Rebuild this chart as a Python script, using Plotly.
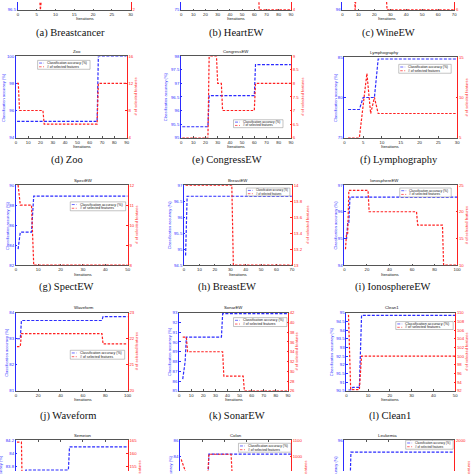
import plotly.graph_objects as go

W, H = 474, 474
BLUE = "#2b2bff"
RED = "#ff2020"
AX = "#555555"

# ---------------- data ----------------
# (a) Breastcancer
bc_acc_it = [1, 30]
bc_acc = [97.3, 97.3]
bc_feat_it = [1, 5, 6, 7, 30]
bc_feat = [5, 5, 2, 4, 4]
# (b) HeartEW
he_acc_it = [1, 90]
he_acc = [85.0, 85.0]
he_feat_it = [1, 63, 64, 90]
he_feat = [7, 7, 4, 4]
# (c) WineEW
wi_acc_it = [1, 70]
wi_acc = [99.0, 99.0]
wi_feat_it = [1, 7, 8, 9, 27, 28, 70]
wi_feat = [9, 9, 6, 8, 8, 6, 6]
# (d) Zoo
zo_acc_it = [1, 66, 67, 90]
zo_acc = [95.2, 95.2, 100, 100]
zo_feat_it = [1, 2, 3, 22, 23, 66, 67, 90]
zo_feat = [12, 12, 8, 8, 6, 6, 12, 12]
# (e) CongressEW
cg_acc_it = [1, 22, 23, 60, 61, 90]
cg_acc = [95.4, 95.4, 96.55, 96.55, 97.7, 97.7]
cg_feat_it = [1, 22, 23, 29, 30, 33, 34, 60, 61, 90]
cg_feat = [6, 6, 9, 9, 8, 8, 7, 7, 8, 8]
# (f) Lymphography
ly_acc_it = [1, 4, 5, 8, 9, 30]
ly_acc = [78.5, 78.5, 80, 80, 84.8, 84.8]
ly_feat_it = [1, 4, 6, 7, 8, 9, 30]
ly_feat = [5, 5, 13, 8, 10, 8, 8]
# (g) SpectEW
sp_acc_it = [1, 2, 7, 8, 50]
sp_acc = [83.6, 85.3, 85.3, 88.9, 88.9]
sp_feat_it = [1, 2, 7, 8, 50]
sp_feat = [12, 11, 11, 8, 8]
# (h) BreastEW
be_acc_it = [1, 2, 70]
be_acc = [94.8, 96.65, 96.65]
be_feat_it = [1, 31, 32, 70]
be_feat = [14, 14, 13, 13]
# (i) IonosphereEW
io_acc_it = [1, 2, 3, 4, 5, 100]
io_acc = [95.0, 95.0, 95.6, 95.6, 96.55, 96.55]
io_feat_it = [1, 2, 3, 4, 21, 22, 64, 65, 87, 88, 100]
io_feat = [13, 16, 16, 24, 24, 20, 20, 17.5, 17.5, 10, 10]
# (j) Waveform
wa_acc_it = [1, 4, 5, 77, 78, 100]
wa_acc = [83.0, 83.0, 83.7, 83.7, 83.85, 83.85]
wa_feat_it = [1, 4, 5, 77, 78, 100]
wa_feat = [21.7, 21.7, 22.2, 22.2, 21.8, 21.8]
# (k) SonarEW
so_acc_it = [3, 4, 5, 6, 35, 36, 90]
so_acc = [86.2, 87.4, 88.0, 90.5, 90.5, 92.9, 92.9]
so_feat_it = [3, 6, 7, 36, 37, 53, 54, 90]
so_feat = [37, 37, 34, 34, 29, 29, 26, 26]
# (l) Clean1
cl_acc_it = [1, 2, 3, 6, 7, 50]
cl_acc = [90.55, 90.55, 90.7, 90.7, 94.85, 94.85]
cl_feat_it = [1, 2, 6, 7, 50]
cl_feat = [109.5, 92.3, 92.3, 100, 100]
# Semeion
se_acc_it = [1, 8, 9, 47, 48, 100]
se_acc = [83.5, 83.5, 83.75, 83.75, 84.1, 84.1]
se_feat_it = [1, 5, 6, 100]
se_feat = [164.3, 164.3, 140, 140]
# Colon
co_acc_it = [1, 25, 26, 100]
co_acc = [80, 80, 84.25, 84.25]
co_feat_it = [1, 3, 6, 25, 26, 46, 47, 100]
co_feat = [980, 950, 880, 880, 1012, 1012, 880, 880]
# Leukemia
le_acc_it = [1, 5, 6, 100]
le_acc = [92, 92, 95.1, 95.1]
le_feat_it = [1, 100]
le_feat = [1200, 1200]

# tick labels
xt_30 = [0, 5, 10, 15, 20, 25, 30]
xt_50 = [0, 10, 20, 30, 40, 50]
xt_70 = [0, 10, 20, 30, 40, 50, 60, 70]
xt_90 = [0, 10, 20, 30, 40, 50, 60, 70, 80, 90]
xt_100 = [0, 20, 40, 60, 80, 100]

panels = [
    dict(t="Breastcancer", cap="(a) Breastcancer", cx=70, cy=31, x=(17, 131), y=(-73, 8),
         xr=[0, 30], xt=xt_30, yl=[96.5, 97.5], ylt=[96.5, 97, 97.5], yr=[2, 6], yrt=[2, 3, 4, 5, 6],
         acc=(bc_acc_it, bc_acc), feat=(bc_feat_it, bc_feat), leg=None),
    dict(t="HeartEW", cap="(b) HeartEW", cx=238, cy=31, x=(182, 293), y=(-73, 8),
         xr=[0, 90], xt=xt_90, yl=[75, 90], ylt=[75, 80, 85, 90], yr=[4, 10], yrt=[4, 6, 8, 10],
         acc=(he_acc_it, he_acc), feat=(he_feat_it, he_feat), leg=None),
    dict(t="WineEW", cap="(c) WineEW", cx=392, cy=31, x=(345, 458), y=(-73, 8),
         xr=[0, 70], xt=xt_70, yl=[96, 100], ylt=[96, 98, 100], yr=[6, 12], yrt=[6, 8, 10, 12],
         acc=(wi_acc_it, wi_acc), feat=(wi_feat_it, wi_feat), leg=None),
    dict(t="Zoo", cap="(d) Zoo", cx=67, cy=159.5, x=(15, 127), y=(55, 137),
         xr=[0, 90], xt=xt_90, yl=[94, 100], ylt=[94, 96, 98, 100], yr=[4, 16], yrt=[4, 8, 12, 16],
         acc=(zo_acc_it, zo_acc), feat=(zo_feat_it, zo_feat), leg=(37, 59, 90, 68)),
    dict(t="CongressEW", cap="(e) CongressEW", cx=228, cy=159.5, x=(182, 293), y=(55, 137),
         xr=[0, 90], xt=xt_90, yl=[95, 98], ylt=[95, 95.5, 96, 96.5, 97, 97.5, 98],
         yr=[6, 9], yrt=[6, 6.5, 7, 7.5, 8, 8.5, 9],
         acc=(cg_acc_it, cg_acc), feat=(cg_feat_it, cg_feat), leg=(235, 119, 285, 127)),
    dict(t="Lymphography", cap="(f) Lymphography", cx=402, cy=159.5, x=(347, 461), y=(56, 137),
         xr=[0, 30], xt=xt_30, yl=[75, 85], ylt=[75, 80, 85], yr=[5, 15], yrt=[5, 10, 15],
         acc=(ly_acc_it, ly_acc), feat=(ly_feat_it, ly_feat), leg=(402, 63, 455, 72)),
    dict(t="SpectEW", cap="(g) SpectEW", cx=66, cy=288, x=(15, 128), y=(185, 266),
         xr=[0, 50], xt=xt_50, yl=[82, 90], ylt=[82, 84, 86, 88, 90], yr=[8, 12], yrt=[8, 9, 10, 11, 12],
         acc=(sp_acc_it, sp_acc), feat=(sp_feat_it, sp_feat), leg=(70, 202, 126, 211)),
    dict(t="BreastEW", cap="(h) BreastEW", cx=228, cy=288, x=(185, 294), y=(185, 266),
         xr=[0, 70], xt=xt_70, yl=[94.5, 97], ylt=[94.5, 95, 95.5, 96, 96.5, 97],
         yr=[13, 14], yrt=[13, 13.2, 13.4, 13.6, 13.8, 14],
         acc=(be_acc_it, be_acc), feat=(be_feat_it, be_feat), leg=(248, 188, 292, 196)),
    dict(t="IonosphereEW", cap="(i) IonosphereEW", cx=396, cy=288, x=(347, 461), y=(185, 266),
         xr=[0, 100], xt=xt_100, yl=[94, 97], ylt=[94, 95, 96, 97], yr=[10, 25], yrt=[10, 15, 20, 25],
         acc=(io_acc_it, io_acc), feat=(io_feat_it, io_feat), leg=(403, 188, 455, 197)),
    dict(t="Waveform", cap="(j) Waveform", cx=68, cy=418, x=(15, 128), y=(314, 393),
         xr=[0, 100], xt=xt_100, yl=[81, 84], ylt=[81, 82, 83, 84], yr=[20, 23], yrt=[20, 21, 22, 23],
         acc=(wa_acc_it, wa_acc), feat=(wa_feat_it, wa_feat), leg=(70, 352, 125, 361)),
    dict(t="SonarEW", cap="(k) SonarEW", cx=239, cy=418, x=(180, 290), y=(314, 393),
         xr=[0, 90], xt=xt_90, yl=[85, 93], ylt=[85, 86, 87, 88, 89, 90, 91, 92, 93],
         yr=[26, 42], yrt=[26, 28, 30, 32, 34, 36, 38, 40, 42],
         acc=(so_acc_it, so_acc), feat=(so_feat_it, so_feat), leg=(235, 319, 289, 328)),
    dict(t="Clean1", cap="(l) Clean1", cx=393, cy=418, x=(349, 459), y=(314, 393),
         xr=[0, 50], xt=xt_50, yl=[90.5, 95], ylt=[90.5, 91, 91.5, 92, 92.5, 93, 93.5, 94, 94.5, 95],
         yr=[92, 110], yrt=[92, 94, 96, 98, 100, 102, 104, 106, 108, 110],
         acc=(cl_acc_it, cl_acc), feat=(cl_feat_it, cl_feat), leg=(399, 323, 457, 331)),
    dict(t="Semeion", cap=None, cx=0, cy=0, x=(15, 128), y=(443, 523),
         xr=[0, 100], xt=xt_100, yl=[83, 84.2], ylt=[83, 83.2, 83.4, 83.6, 83.8, 84, 84.2],
         yr=[135, 165], yrt=[135, 140, 145, 150, 155, 160, 165],
         acc=(se_acc_it, se_acc), feat=(se_feat_it, se_feat), leg=None),
    dict(t="Colon", cap=None, cx=0, cy=0, x=(181, 293), y=(443, 523),
         xr=[0, 100], xt=xt_100, yl=[76, 86], ylt=[76, 78, 80, 82, 84, 86],
         yr=[600, 1100], yrt=[600, 700, 800, 900, 1000, 1100],
         acc=(co_acc_it, co_acc), feat=(co_feat_it, co_feat), leg=(240, 446, 293, 455)),
    dict(t="Leukemia", cap=None, cx=0, cy=0, x=(347, 458), y=(443, 523),
         xr=[0, 100], xt=xt_100, yl=[90, 96], ylt=[90, 93, 96], yr=[1000, 2000], yrt=[1000, 1500, 2000],
         acc=(le_acc_it, le_acc), feat=(le_feat_it, le_feat), leg=(409, 443, 457, 452)),
]


def fmt(v):
    return "%g" % v


def PX(px):
    return px / W


def PY(py):
    return 1 - py / H


BDASH = "3px,1.5px"
RDASH = "2.5px,1.5px"

fig = go.Figure()
layout = dict(width=W, height=H, margin=dict(l=0, r=0, t=0, b=0),
              paper_bgcolor="white", plot_bgcolor="white", showlegend=False)
shapes, ann = [], []
TF = dict(family="Liberation Sans, Arial, sans-serif", size=4.3)

for i, p in enumerate(panels):
    k = i + 1
    xa = "xaxis" if k == 1 else f"xaxis{k}"
    xref = "x" if k == 1 else f"x{k}"
    nl, nr = 2 * k - 1, 2 * k
    yl = "yaxis" if nl == 1 else f"yaxis{nl}"
    ylref = "y" if nl == 1 else f"y{nl}"
    yr = f"yaxis{nr}"
    yrref = f"y{nr}"
    x0, x1 = p["x"]
    top, bot = p["y"]
    vt, vb = max(top, 0), min(bot, H)

    def vis(r):
        a, b = r
        lo = a + (bot - vb) / (bot - top) * (b - a)
        hi = a + (bot - vt) / (bot - top) * (b - a)
        return [lo, hi]

    fig.add_trace(go.Scatter(x=p["acc"][0], y=p["acc"][1], xaxis=xref, yaxis=ylref, mode="lines",
                             line=dict(color=BLUE, width=1.2, dash=BDASH), name="Classification accuracy (%)"))
    fig.add_trace(go.Scatter(x=p["feat"][0], y=p["feat"][1], xaxis=xref, yaxis=yrref, mode="lines",
                             line=dict(color=RED, width=1.2, dash=RDASH), name="# of selected features"))

    bottom_vis = bot <= H
    top_vis = top >= 0
    layout[xa] = dict(domain=[PX(x0), PX(x1)], range=p["xr"], tickvals=p["xt"],
                      ticktext=[fmt(v) for v in p["xt"]], anchor=ylref,
                      showline=True, linecolor=AX, linewidth=0.8,
                      mirror=bool(top_vis and bottom_vis), ticks="inside", ticklen=1.5, tickcolor=AX,
                      tickwidth=0.6, tickfont=dict(TF, color="#222"), showgrid=False, zeroline=False,
                      layer="below traces", showticklabels=bottom_vis,
                      side="bottom" if bottom_vis else "top")
    layout[yl] = dict(domain=[PY(vb), PY(vt)], range=vis(p["yl"]), tickvals=p["ylt"],
                      ticktext=[fmt(v) for v in p["ylt"]], anchor=xref,
                      showline=True, linecolor=BLUE, linewidth=0.8, ticks="inside", ticklen=1.5,
                      tickcolor=BLUE, tickwidth=0.6, tickfont=dict(TF, color=BLUE),
                      showgrid=False, zeroline=False, layer="below traces")
    layout[yr] = dict(range=vis(p["yr"]), tickvals=p["yrt"], ticktext=[fmt(v) for v in p["yrt"]],
                      overlaying=ylref, side="right", anchor=xref,
                      showline=True, linecolor=RED, linewidth=0.8, ticks="inside", ticklen=1.5,
                      tickcolor=RED, tickwidth=0.6, tickfont=dict(TF, color=RED),
                      showgrid=False, zeroline=False, layer="below traces")

    # panel title
    if top_vis:
        ann.append(dict(x=PX((x0 + x1) / 2), y=PY(top - 0.3), xref="paper", yref="paper",
                        text=p["t"], showarrow=False, yanchor="bottom", font=dict(TF, color="#111")))
    # x title
    if bottom_vis:
        ann.append(dict(x=PX((x0 + x1) / 2), y=PY(bot + 9), xref="paper", yref="paper",
                        text="Iterations", showarrow=False, yanchor="middle", font=dict(TF, color="#111")))
    # y titles (only where part of them is inside the picture)
    if top_vis:
        lw = max(len(fmt(v)) for v in p["ylt"])
        rw = max(len(fmt(v)) for v in p["yrt"])
        cy = (top + bot) / 2
        ann.append(dict(x=PX(x0 - (3 + 3 * lw)), y=PY(cy), xref="paper", yref="paper", textangle=-90,
                        text="Classification accuracy (%)", showarrow=False, xanchor="center",
                        yanchor="middle", font=dict(TF, size=4, color=BLUE)))
        ann.append(dict(x=PX(x1 + (3 + 3 * rw)), y=PY(cy), xref="paper", yref="paper", textangle=-90,
                        text="# of selected features", showarrow=False, xanchor="center",
                        yanchor="middle", font=dict(TF, size=4, color=RED)))
    # caption
    if p["cap"]:
        ann.append(dict(x=PX(p["cx"]), y=PY(p["cy"]), xref="paper", yref="paper", text=p["cap"],
                        showarrow=False, xanchor="center", yanchor="middle",
                        font=dict(family="Liberation Serif, Times New Roman, serif", size=10.5, color="#111")))
    # legend box
    if p["leg"]:
        lx0, ly0, lx1, ly1 = p["leg"]
        shapes.append(dict(type="rect", xref="paper", yref="paper", x0=PX(lx0), x1=PX(lx1),
                           y0=PY(ly1), y1=PY(ly0), line=dict(color="#888", width=0.5), fillcolor="white",
                           layer="above"))
        fs = max((lx1 - lx0 - 8) / 13.5, 2.0)
        rows = [(ly0 + (ly1 - ly0) * 0.3, BLUE, BDASH, "Classification accuracy (%)"),
                (ly0 + (ly1 - ly0) * 0.72, RED, RDASH, "# of selected features")]
        for ry, col, dsh, txt in rows:
            shapes.append(dict(type="line", xref="paper", yref="paper", x0=PX(lx0 + 1.5), x1=PX(lx0 + 6.5),
                               y0=PY(ry), y1=PY(ry), line=dict(color=col, width=0.7, dash=dsh), layer="above"))
            ann.append(dict(x=PX(lx0 + 7.5), y=PY(ry), xref="paper", yref="paper", text=txt,
                            showarrow=False, xanchor="left", yanchor="middle",
                            font=dict(TF, size=fs, color="#111")))

layout["shapes"] = shapes
layout["annotations"] = ann
fig.update_layout(**layout)
fig.write_html("out.html")
